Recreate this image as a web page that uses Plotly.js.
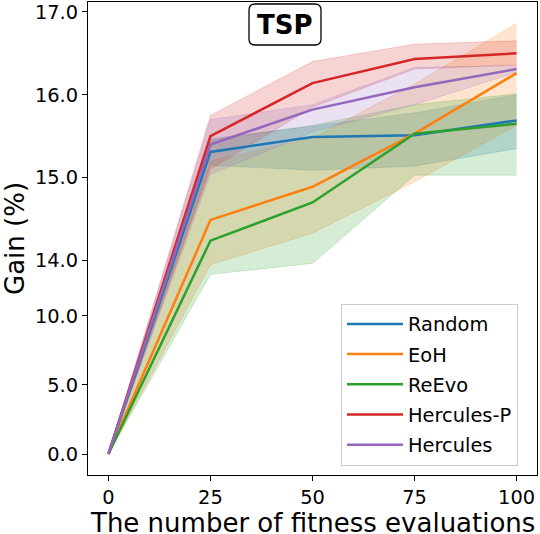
<!DOCTYPE html>
<html>
<head>
<meta charset="utf-8">
<script src="https://cdn.plot.ly/plotly-3.0.1.min.js"></script>
<style>
  body { margin: 0; background: #fff; }
  #graph { width: 540px; height: 534px; }
</style>
</head>
<body>
<div id="graph"></div>
<script>
// evaluations on the x axis
const evals = [0, 25, 50, 75, 100];

// mean gain (%) and the shaded band (lower / upper) per method
const randomMean = [0, 15.31, 15.49, 15.51, 15.69];
const randomLow  = [0, 15.15, 15.09, 15.14, 15.35];
const randomHigh = [0, 15.47, 15.62, 15.78, 16.00];

const eohMean = [0, 14.49, 14.89, 15.53, 16.26];
const eohLow  = [0, 13.70, 14.33, 14.95, 15.63];
const eohHigh = [0, 15.20, 15.48, 16.13, 16.86];

const reevoMean = [0, 14.24, 14.70, 15.53, 15.65];
const reevoLow  = [0, 13.00, 13.80, 15.03, 15.03];
const reevoHigh = [0, 15.45, 15.63, 15.88, 16.01];

const hercPMean = [0, 15.50, 16.14, 16.43, 16.50];
const hercPLow  = [0, 15.10, 15.85, 16.31, 16.36];
const hercPHigh = [0, 15.75, 16.40, 16.61, 16.65];

const hercMean = [0, 15.40, 15.82, 16.09, 16.31];
const hercLow  = [0, 15.04, 15.55, 15.88, 16.27];
const hercHigh = [0, 15.70, 15.88, 16.33, 16.35];

const methods = ['Random', 'EoH', 'ReEvo', 'Hercules-P', 'Hercules'];
const yTicks = [0, 5, 10, 14, 15, 16, 17];

// y axis is stretched above 14 (piecewise linear scale)
const BREAK = 14;
const STRETCH = 6;
function tr(v){
    return v <= BREAK ? v : BREAK + (v - BREAK) * STRETCH;
}

const colors = ['31,119,180', '255,127,14', '44,160,44', '214,39,40', '148,103,189'];
const means = [randomMean, eohMean, reevoMean, hercPMean, hercMean];
const lows = [randomLow, eohLow, reevoLow, hercPLow, hercLow];
const highs = [randomHigh, eohHigh, reevoHigh, hercPHigh, hercHigh];

let bands = [];
let lines = [];
for (let i = 0; i < methods.length; i++){
    bands.push({
        x: evals, y: lows[i].map(tr), type: 'scatter', mode: 'lines',
        line: {color: 'rgba(' + colors[i] + ',0.2)', width: 1},
        showlegend: false, hoverinfo: 'skip'
    });
    bands.push({
        x: evals, y: highs[i].map(tr), type: 'scatter', mode: 'lines',
        fill: 'tonexty', fillcolor: 'rgba(' + colors[i] + ',0.2)',
        line: {color: 'rgba(' + colors[i] + ',0.2)', width: 1},
        showlegend: false, hoverinfo: 'skip'
    });
    lines.push({
        x: evals, y: means[i].map(tr), type: 'scatter', mode: 'lines',
        name: methods[i], legendgroup: methods[i],
        line: {color: 'rgb(' + colors[i] + ')', width: 2.5}
    });
}

// rounded box behind the title
const bx0 = 0.3586, bx1 = 0.5189, by0 = 0.9091, by1 = 0.9958;
const rx = 0.0134, ry = 0.0127;
const boxPath = 'M ' + (bx0 + rx) + ',' + by1 +
    ' L ' + (bx1 - rx) + ',' + by1 + ' Q ' + bx1 + ',' + by1 + ' ' + bx1 + ',' + (by1 - ry) +
    ' L ' + bx1 + ',' + (by0 + ry) + ' Q ' + bx1 + ',' + by0 + ' ' + (bx1 - rx) + ',' + by0 +
    ' L ' + (bx0 + rx) + ',' + by0 + ' Q ' + bx0 + ',' + by0 + ' ' + bx0 + ',' + (by0 + ry) +
    ' L ' + bx0 + ',' + (by1 - ry) + ' Q ' + bx0 + ',' + by1 + ' ' + (bx0 + rx) + ',' + by1 + ' Z';

const font = 'DejaVu Sans, sans-serif';
var layout = {
    width: 540,
    height: 534,
    margin: {l: 88, r: 3, t: 2, b: 59, pad: 0},
    paper_bgcolor: '#fff',
    plot_bgcolor: '#fff',
    font: {family: font, color: '#000'},
    showlegend: true,
    legend: {
        x: 0.5635, y: 0.362, xanchor: 'left', yanchor: 'top',
        bgcolor: 'rgba(255,255,255,0.8)', bordercolor: '#cccccc', borderwidth: 1,
        font: {family: font, size: 19.4, color: '#000'},
        traceorder: 'grouped', tracegroupgap: 2, itemwidth: 56
    },
    xaxis: {
        range: [-5, 105],
        tickvals: evals,
        ticktext: evals.map(String),
        ticks: 'outside', ticklen: 5, tickwidth: 1, tickcolor: '#000',
        showline: true, linecolor: '#000', linewidth: 1, mirror: true,
        showgrid: false, zeroline: false,
        tickfont: {family: font, size: 19.4, color: '#000'}
    },
    yaxis: {
        range: [-1.52, 32.71],
        tickvals: yTicks.map(tr),
        ticktext: yTicks.map(v => v.toFixed(1)),
        ticks: 'outside', ticklen: 5, tickwidth: 1, tickcolor: '#000',
        showline: true, linecolor: '#000', linewidth: 1, mirror: true,
        showgrid: false, zeroline: false,
        tickfont: {family: font, size: 19.4, color: '#000'},
        title: {text: 'Gain (%)', font: {family: font, size: 26, color: '#000'}, standoff: 8}
    },
    shapes: [{
        type: 'path', xref: 'paper', yref: 'paper', path: boxPath,
        fillcolor: '#fff', line: {color: '#000', width: 1.3}
    }],
    annotations: [{
        xref: 'paper', yref: 'paper', x: 0.4388, y: 0.952,
        xanchor: 'center', yanchor: 'middle', showarrow: false,
        text: '<b>TSP</b>', font: {family: font, size: 26, color: '#000'}
    }, {
        // x axis title placed by hand so it sits under the tick labels
        xref: 'paper', yref: 'paper', x: 0.5, y: -0.068,
        xanchor: 'center', yanchor: 'top', showarrow: false, borderpad: 0,
        text: 'The number of fitness evaluations',
        font: {family: font, size: 26, color: '#000'}
    }]
};

Plotly.newPlot('graph', bands.concat(lines), layout, {staticPlot: true});
</script>
</body>
</html>
